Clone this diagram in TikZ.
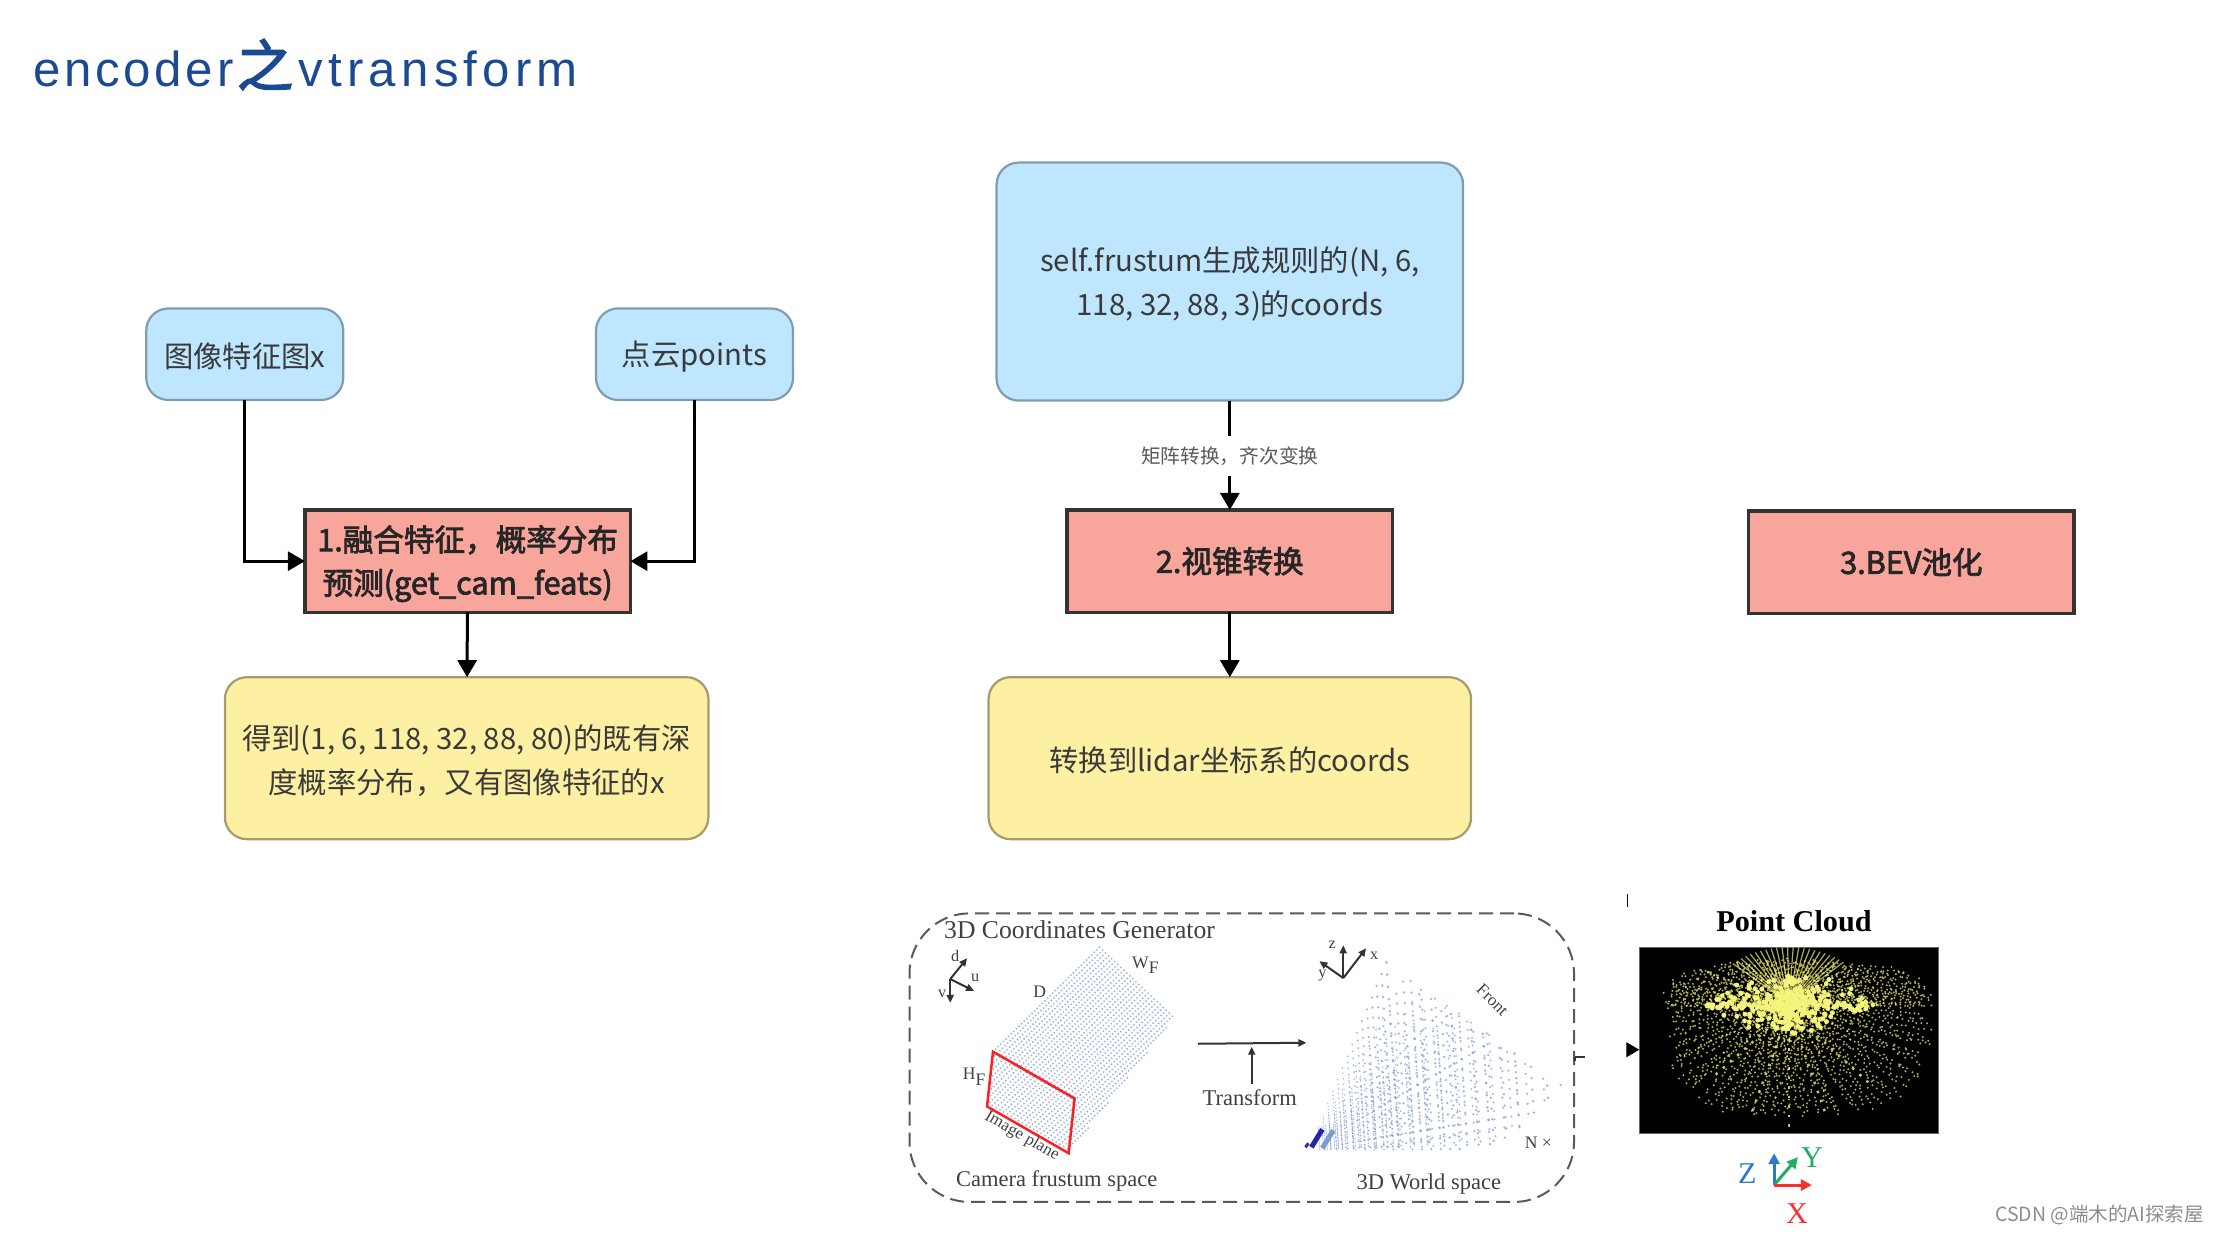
\documentclass[tikz,border=0pt]{standalone}
\usepackage{fontspec}
\usepackage{tikz}
\usetikzlibrary{calc, shapes, fit, arrows.meta}
\setmainfont{Noto Sans CJK SC}
\newfontfamily\strongfont[FakeBold=2.6]{Noto Sans CJK SC}
\newfontfamily\titlefont[LetterSpace=7.5]{Liberation Sans}
\newfontfamily\paperfont{Liberation Serif}
\definecolor{boxblue}{HTML}{BEE6FF}
\definecolor{boxred}{HTML}{F8A69C}
\definecolor{boxyellow}{HTML}{FDF0A3}
\definecolor{titleblue}{HTML}{1C4A92}
\definecolor{textgray}{HTML}{3A3A3A}
\definecolor{dotblue}{HTML}{7F9BD6}
\definecolor{dotyellow}{HTML}{F4F47C}
\definecolor{axisz}{HTML}{2E78C6}
\definecolor{axisy}{HTML}{22AA66}
\definecolor{axisx}{HTML}{F83030}
\newcommand{\lowline}[1]{\raisebox{-0.7pt}[\height][\depth]{#1}}
\tikzset{
	soft/.style = {rounded corners = 2.2mm, line width = 0.22mm, align = center, text = textgray, font = \fontsize{8.35}{12.3}\selectfont, inner sep = 0pt, outer sep = 0pt},
	bluebox/.style = {soft, fill = boxblue, draw = black!32!boxblue},
	yellowbox/.style = {soft, fill = boxyellow, draw = black!35!boxyellow},
	redbox/.style = {fill = boxred, draw = black!80, line width = 0.36mm, align = center, text = black!85, inner sep = 0pt, outer sep = 0pt, font = \strongfont\fontsize{8.7}{12.3}\selectfont, minimum width = 32.55mm, minimum height = 10.25mm},
	flow/.style = {line width = 0.3mm, -{Triangle[length = 1.7mm, width = 1.9mm]}},
	paper/.style = {font = \paperfont\fontsize{6.4}{7}\selectfont, text = black!75, inner sep = 0pt},
	thin arrow/.style = {line width = 0.2mm, draw = black!80, -{Triangle[length = 0.8mm, width = 0.7mm]}}
}

\begin{document}
\begin{tikzpicture}[x = 0.0995mm, y = -0.0995mm]
	\useasboundingbox (0,0) rectangle (2229.15,1240.2);
	\node (Title) at (33,87)[anchor = base west, inner sep = 0pt, text = titleblue]{\titlefont\fontsize{14}{14}\selectfont encoder{\strongfont\fontsize{16}{16}\selectfont\hspace{1pt}之\hspace{1.6pt}}\addfontfeature{LetterSpace=10.5}vtransform};

	\node (Image) at (246,356)[bluebox, minimum width = 19.7mm, minimum height = 9.15mm]{\lowline{图像特征图x}};
	\node (Points) at (698,356)[bluebox, minimum width = 19.7mm, minimum height = 9.15mm]{\lowline{点云points}};
	\node (Fusion) at (470,564)[redbox]{\lowline{1.融合特征，概率分布}\\\lowline{预测(get\_cam\_feats)}};
	\node (Depth) at (469,762)[yellowbox, minimum width = 48.35mm, minimum height = 16.2mm]{\lowline{得到(1, 6, 118, 32, 88, 80)的既有深}\\\lowline{度概率分布，又有图像特征的x}};
	\node (Frustum) at (1236,283)[bluebox, minimum width = 46.65mm, minimum height = 23.8mm]{\lowline{self.frustum生成规则的(N, 6,}\\\lowline{118, 32, 88, 3)的coords}};
	\node (Cone) at (1236,564)[redbox]{2.视锥转换};
	\node (Lidar) at (1236,762)[yellowbox, minimum width = 48.25mm, minimum height = 16.2mm]{\lowline{转换到lidar坐标系的coords}};
	\node (Pool) at (1921,565)[redbox]{3.BEV池化};

	\draw[flow] (Image.south) |- (Fusion.west);
	\draw[flow] (Points.south) |- (Fusion.east);
	\draw[flow] (Fusion)--(Depth);
	\draw[flow] (Frustum)--(Cone) node (Matrix) at (1236,458)[fill = white, text = black!65, font = \fontsize{5.6}{6}\selectfont, inner xsep = 0pt, inner ysep = 3pt]{矩阵转换，齐次变换};
	\draw[flow] (Cone)--(Lidar);

	\foreach \s in {0,...,30} {
		\pgfmathsetmacro\tval{\s/30}
		\pgfmathsetmacro\bx{\tval<0.275 ? 998-6*\tval/0.275 : 992+82*(\tval-0.275)/0.725}
		\pgfmathsetmacro\by{\tval<0.275 ? 1057+55*\tval/0.275 : 1112+47*(\tval-0.275)/0.725}
		\pgfmathsetmacro\ex{\tval<0.82 ? 1105+75*\tval/0.82 : 1180-106*(\tval-0.82)/0.18}
		\pgfmathsetmacro\ey{\tval<0.82 ? 952+71*\tval/0.82 : 1023+136*(\tval-0.82)/0.18}
		\pgfmathtruncatemacro\len{veclen(\ex-\bx,\ey-\by)/3.6}
		\fill[dotblue, opacity = 0.75] foreach \j in {0,...,\len} {({\bx+(\ex-\bx)*\j/max(\len,1)},{\by+(\ey-\by)*\j/max(\len,1)}) circle (0.3pt)};
	}
	\foreach \u in {0,...,16}
		\foreach \v in {0,...,6}
			\foreach \k in {2,...,16} {
				\pgfmathsetmacro\fx{1315+\k*(4.9+0.05*\u+1.9*\v)}
				\pgfmathsetmacro\fy{1156+\k*(-11.8+0.77*\u-0.3*\v)}
				\pgfmathsetmacro\keep{(\fy>968+(\fx-1395)*0.7 && \fy<1156-max(\fx-1497,0)*0.77) ? 1 : 0}
				\ifdim\keep pt>0pt
					\fill[dotblue, opacity = 0.7] (\fx,\fy) circle ({(0.14+0.017*\k)*1pt});
				\fi
			}
	\draw[dotblue!40!blue!80!black, line width = 0.3mm] (1312,1153)--(1315,1149);
	\draw[dotblue!35!blue!70!black, line width = 0.5mm] (1318,1153)--(1329,1135);
	\draw[dotblue, line width = 0.5mm] (1329,1154)--(1340,1136);

	\node (Frame) at (1248,1063)[draw = black!65, line width = 0.2mm, dash pattern = on 1.4mm off 0.7mm, rounded corners = 6mm, minimum width = 66.45mm, minimum height = 28.85mm, inner sep = 0pt]{};
	\node (Generator) at (1085,934)[paper, font = \paperfont\fontsize{7.3}{8}\selectfont]{3D Coordinates Generator};
	\node (CamSpace) at (1062,1187)[paper]{Camera frustum space};
	\node (World) at (1436,1190)[paper]{3D World space};
	\node (Trans) at (1256,1103)[paper]{Transform};
	\node (Depthmark) at (1045,997)[paper, font = \paperfont\fontsize{5}{6}\selectfont]{D};
	\node (Wf) at (1152,970)[paper, font = \paperfont\fontsize{5}{6}\selectfont]{W\textsubscript{F}};
	\node (Hf) at (980,1082)[paper, font = \paperfont\fontsize{5}{6}\selectfont]{H\textsubscript{F}};
	\node (Plane) at (1027,1142)[paper, font = \paperfont\fontsize{4.8}{6}\selectfont, rotate = -30]{Image plane};
	\node (Front) at (1500,1005)[paper, font = \paperfont\fontsize{4.8}{6}\selectfont, rotate = -45]{Front};
	\node (Ntimes) at (1546,1148)[paper, font = \paperfont\fontsize{5}{6}\selectfont]{N ×};

	\coordinate (PA) at (998,1057);
	\coordinate (PB) at (1080,1104);
	\coordinate (PC) at (1074,1159);
	\coordinate (PD) at (992,1112);
	\draw[red!88!white, line width = 0.25mm] (PA)--(PB)--(PC)--(PD)--cycle;

	\coordinate (TA) at (1204,1049);
	\coordinate (TB) at (1313,1048);
	\coordinate (TC) at (1258,1089);
	\coordinate (TD) at (1258,1052);
	\draw[thin arrow] (TA)--(TB);
	\draw[thin arrow] (TC)--(TD);

	\coordinate (CO) at (955,984);
	\coordinate (CD) at (972,963);
	\coordinate (CU) at (979,996);
	\coordinate (CV) at (955,1008);
	\draw[thin arrow] (CO)--(CD);
	\draw[thin arrow] (CO)--(CU);
	\draw[thin arrow] (CO)--(CV);
	\node (Ld) at (960,961)[paper, font = \paperfont\fontsize{4.6}{5}\selectfont]{d};
	\node (Lu) at (980,983)[paper, font = \paperfont\fontsize{4.6}{5}\selectfont]{u};
	\node (Lv) at (947,999)[paper, font = \paperfont\fontsize{4.6}{5}\selectfont]{v};

	\coordinate (WO) at (1350,983);
	\coordinate (WZ) at (1350,950);
	\coordinate (WX) at (1373,953);
	\coordinate (WY) at (1326,966);
	\draw[thin arrow] (WO)--(WZ);
	\draw[thin arrow] (WO)--(WX);
	\draw[thin arrow] (WO)--(WY);
	\node (Lz) at (1339,950)[paper, font = \paperfont\fontsize{4.6}{5}\selectfont]{z};
	\node (Lx) at (1381,961)[paper, font = \paperfont\fontsize{4.6}{5}\selectfont]{x};
	\node (Ly) at (1329,980)[paper, font = \paperfont\fontsize{4.6}{5}\selectfont]{y};

	\coordinate (Stub) at (1593,1062);
	\coordinate (StubEnd) at (1585,1066);
	\draw[black!80, line width = 0.2mm] (Frame.east |- Stub)--(Stub) (Frame.east |- Stub)--(Frame.east |- StubEnd);

	\node (Cloud) at (1798,1046)[fill = black, draw = black!60, line width = 0.1mm, minimum width = 29.85mm, minimum height = 18.6mm, inner sep = 0pt]{};
	\begin{scope}
		\clip (Cloud.south west) rectangle (Cloud.north east);
		\pgfmathsetseed{17}
		\foreach \a in {0,3,...,357} {
			\pgfmathsetmacro\sq{1/pow(pow(abs(cos(\a))+0.001,3)+pow(abs(sin(\a))+0.001,3),1/3)}
			\pgfmathsetmacro\wid{(cos(\a)>0 ? 145 : 125)*\sq*(0.9+0.1*rnd)}
			\pgfmathsetmacro\hei{(sin(\a)>0 ? 112 : 48)*\sq*(0.9+0.1*rnd)}
			\fill[dotyellow, opacity = 0.7] foreach \k in {2,...,26} {({1798+\wid*\k/26*cos(\a)+5*rnd-2.5},{1012+\hei*\k/26*sin(\a)+3*rnd-1.5}) circle (0.32pt)};
		}
		\foreach \a in {0,1,...,359} {
			\pgfmathsetmacro\wid{85*(rnd^1.2)}
			\pgfmathsetmacro\hei{30*(rnd^1.2)}
			\fill[dotyellow] ({1798+\wid*cos(\a)},{1010+\hei*sin(\a)}) circle (0.7pt);
		}
		\foreach \a in {-135,-131,...,-45}
			\draw[dotyellow, line width = 0.12mm, opacity = 0.7] (1798,1008)--({1798+80*cos(\a)},{1008+56*sin(\a)});
		\foreach \tx/\ty in {1722/1082, 1798/1135, 1880/1090, 1760/1120, 1835/1120}
			\draw[dotyellow, line width = 0.25mm, opacity = 0.8, dotted] (1798,1015)--(\tx,\ty);
	\end{scope}
	\node (CloudName) at (1803,926)[font = \paperfont\bfseries\fontsize{8.6}{9}\selectfont, text = black, inner sep = 0pt]{Point Cloud};
	\coordinate (MarkA) at (1636,898);
	\coordinate (MarkB) at (1636,912);
	\draw[blue!60!black, line width = 0.1mm] (MarkA)--(MarkB);
	\coordinate (Feed) at (1635,1055);
	\draw[line width = 0.1mm, -{Triangle[length = 1.3mm, width = 1.5mm]}] (Feed)--(Cloud.west |- Feed);

	\coordinate (AO) at (1783,1191);
	\coordinate (AZ) at (1783,1159);
	\coordinate (AY) at (1807,1163);
	\coordinate (AX) at (1821,1191);
	\draw[line width = 0.3mm, draw = axisz, -{Triangle[length = 1.1mm, width = 1.1mm]}] (AO)--(AZ);
	\draw[line width = 0.3mm, draw = axisy, -{Triangle[length = 1.1mm, width = 1.1mm]}] (AO)--(AY);
	\draw[line width = 0.3mm, draw = axisx, -{Triangle[length = 1.1mm, width = 1.1mm]}] (AO)--(AX);
	\node (NameZ) at (1756,1180)[font = \paperfont\fontsize{8.6}{9}\selectfont, text = axisz, inner sep = 0pt]{Z};
	\node (NameY) at (1821,1163)[font = \paperfont\fontsize{8.6}{9}\selectfont, text = axisy, inner sep = 0pt]{Y};
	\node (NameX) at (1806,1220)[font = \paperfont\fontsize{8.6}{9}\selectfont, text = axisx, inner sep = 0pt]{X};

	\node (Mark) at (2110,1221)[text = black!45, font = \fontsize{5.55}{6}\selectfont, inner sep = 0pt]{CSDN @端木的AI探索屋};
\end{tikzpicture}
\end{document}
